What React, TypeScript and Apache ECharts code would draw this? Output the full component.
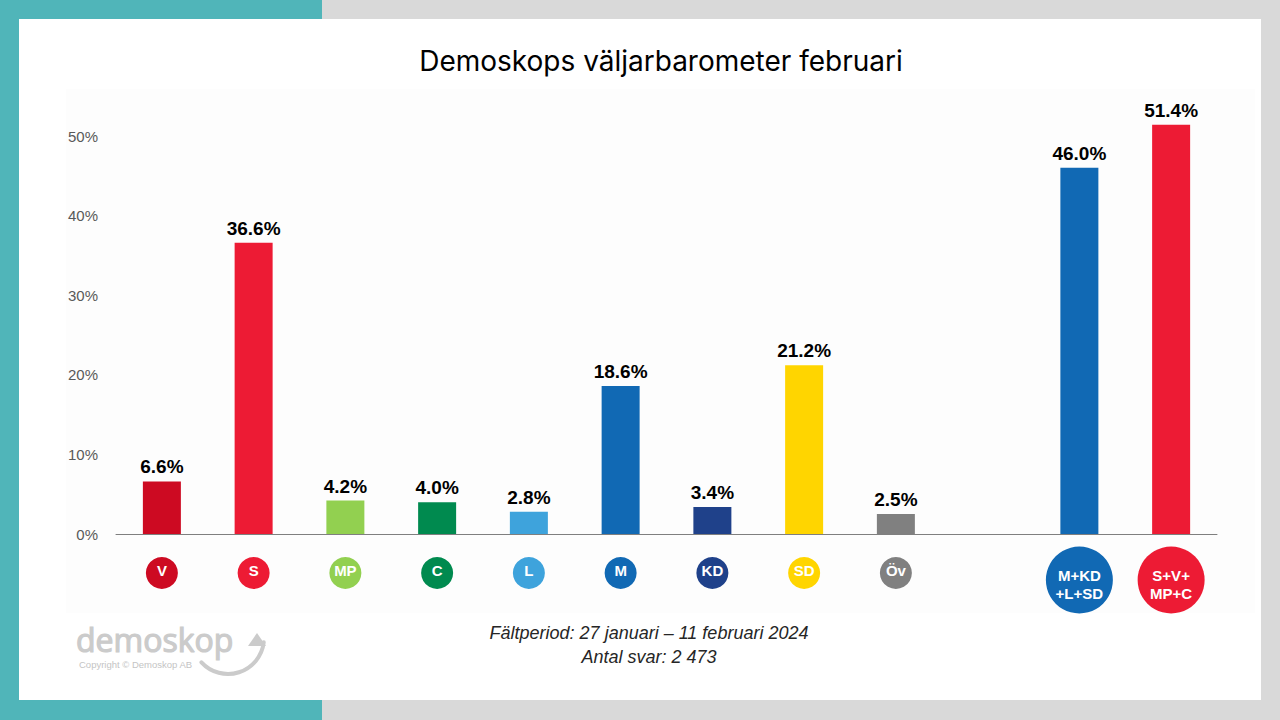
import React, { useEffect, useRef } from "react";
import * as echarts from "echarts";

const TITLE = "Demoskops väljarbarometer februari";
const SUBTITLE_1 = "Fältperiod: 27 januari – 11 februari 2024";
const SUBTITLE_2 = "Antal svar: 2 473";
const LOGO_TEXT = "demoskop";
const COPYRIGHT = "Copyright © Demoskop AB";

const categories = ["V", "S", "MP", "C", "L", "M", "KD", "SD", "Öv", "", "M+KD\n+L+SD", "S+V+\nMP+C"];
const values: (number | null)[] = [6.6, 36.6, 4.2, 4.0, 2.8, 18.6, 3.4, 21.2, 2.5, null, 46.0, 51.4];
const colors = ["#cd0a22", "#ed1b34", "#92d050", "#008a4f", "#3ea3dc", "#1169b4", "#1f418a", "#ffd500", "#808080", "#ffffff", "#1169b4", "#ed1b34"];
const isBloc = [false, false, false, false, false, false, false, false, false, false, true, true];
const yTickMax = 50;

const FONT = "'Liberation Sans', Arial, Helvetica, sans-serif";

export default function App() {
  const ref = useRef<HTMLDivElement>(null);
  useEffect(() => {
    if (!ref.current) return;
    const chart = echarts.init(ref.current, undefined, { renderer: "svg" });

    const barData = values.map((v, i) =>
      v == null ? "-" : { value: v, itemStyle: { color: colors[i] } }
    );
    const badgeData = categories
      .map((c, i) => {
        if (!c) return null;
        const big = isBloc[i];
        return {
          value: [i, 0],
          name: c,
          symbolSize: big ? 67 : 32,
          symbolOffset: big ? [0, 4] : [0, -3],
          itemStyle: { color: colors[i], opacity: 1 },
          label: {
            fontSize: 15,
            lineHeight: 18,
            offset: big ? [0, 4] : [0, -3],
          },
        };
      })
      .filter(Boolean);

    chart.setOption({
      animation: false,
      backgroundColor: "#d9d9d9",
      textStyle: { fontFamily: FONT },
      graphic: [
        { type: "rect", z: -10, silent: true, shape: { x: 0, y: 0, width: 322, height: 19 }, style: { fill: "#50b5b9" } },
        { type: "rect", z: -10, silent: true, shape: { x: 0, y: 0, width: 19, height: 720 }, style: { fill: "#50b5b9" } },
        { type: "rect", z: -10, silent: true, shape: { x: 0, y: 700, width: 322, height: 20 }, style: { fill: "#50b5b9" } },
        { type: "rect", z: -9, silent: true, shape: { x: 19, y: 19, width: 1242, height: 681 }, style: { fill: "#ffffff" } },
        { type: "rect", z: -8, silent: true, shape: { x: 66, y: 89, width: 1189, height: 524 }, style: { fill: "#fdfdfd" } },
        {
          type: "text", x: 661, y: 61, silent: true,
          style: { text: TITLE, fill: "#000000", font: `28px Inter, ${FONT}`, textAlign: "center", textVerticalAlign: "middle" },
        },
        {
          type: "text", x: 649, y: 633, silent: true,
          style: { text: SUBTITLE_1, fill: "#262626", font: `italic 18px ${FONT}`, textAlign: "center", textVerticalAlign: "middle" },
        },
        {
          type: "text", x: 649, y: 657, silent: true,
          style: { text: SUBTITLE_2, fill: "#262626", font: `italic 18px ${FONT}`, textAlign: "center", textVerticalAlign: "middle" },
        },
        {
          type: "text", x: 76, y: 639, silent: true,
          style: { text: LOGO_TEXT, fill: "#cbcbcb", stroke: "#cbcbcb", lineWidth: 1.2, font: `32px 'Open Sans', ${FONT}`, textAlign: "left", textVerticalAlign: "middle" },
        },
        {
          type: "text", x: 79, y: 664, silent: true,
          style: { text: COPYRIGHT, fill: "#c4c4c4", font: `9.5px ${FONT}`, textAlign: "left", textVerticalAlign: "middle" },
        },
        {
          type: "arc", silent: true,
          shape: { cx: 228, cy: 638, r: 36, startAngle: 0.12, endAngle: 2.4, clockwise: true },
          style: { stroke: "#cbcbcb", lineWidth: 4, fill: "none", lineCap: "round" },
        },
        {
          type: "polygon", silent: true,
          shape: { points: [[257, 633], [248, 646], [266, 646]] },
          style: { fill: "#cbcbcb" },
        },
      ],
      grid: [
        { left: 116, right: 63, top: 56.4, bottom: 186 },
        { left: 116, right: 63, top: 556, height: 40 },
      ],
      xAxis: [
        {
          type: "category",
          gridIndex: 0,
          data: categories,
          axisTick: { show: false },
          axisLabel: { show: false },
          axisLine: { lineStyle: { color: "#7f7f7f", width: 1 } },
        },
        {
          type: "category",
          gridIndex: 1,
          data: categories,
          show: false,
        },
      ],
      yAxis: [
        {
          type: "value",
          gridIndex: 0,
          min: 0,
          max: 60,
          interval: 10,
          splitLine: { show: false },
          axisLine: { show: false },
          axisTick: { show: false },
          axisLabel: {
            margin: 18,
            color: "#595959",
            fontSize: 15,
            formatter: (v: number) => (v <= yTickMax ? `${v}%` : ""),
          },
        },
        { type: "value", gridIndex: 1, min: -1, max: 1, show: false },
      ],
      series: [
        {
          type: "bar",
          xAxisIndex: 0,
          yAxisIndex: 0,
          data: barData,
          barWidth: 38,
          label: {
            show: true,
            position: "top",
            distance: 5,
            color: "#000000",
            fontWeight: "bold",
            fontSize: 19,
            formatter: (p: any) => `${Number(p.value).toFixed(1)}%`,
          },
        },
        {
          type: "scatter",
          xAxisIndex: 1,
          yAxisIndex: 1,
          clip: false,
          symbol: "circle",
          data: badgeData,
          itemStyle: { opacity: 1 },
          label: {
            show: true,
            position: "inside",
            color: "#ffffff",
            fontWeight: "bold",
            fontSize: 15,
            formatter: (p: any) => p.name,
          },
        },
      ],
    });
    return () => chart.dispose();
  }, []);

  return <div ref={ref} style={{ position: "fixed", left: 0, top: 0, width: 1280, height: 720 }} />;
}
